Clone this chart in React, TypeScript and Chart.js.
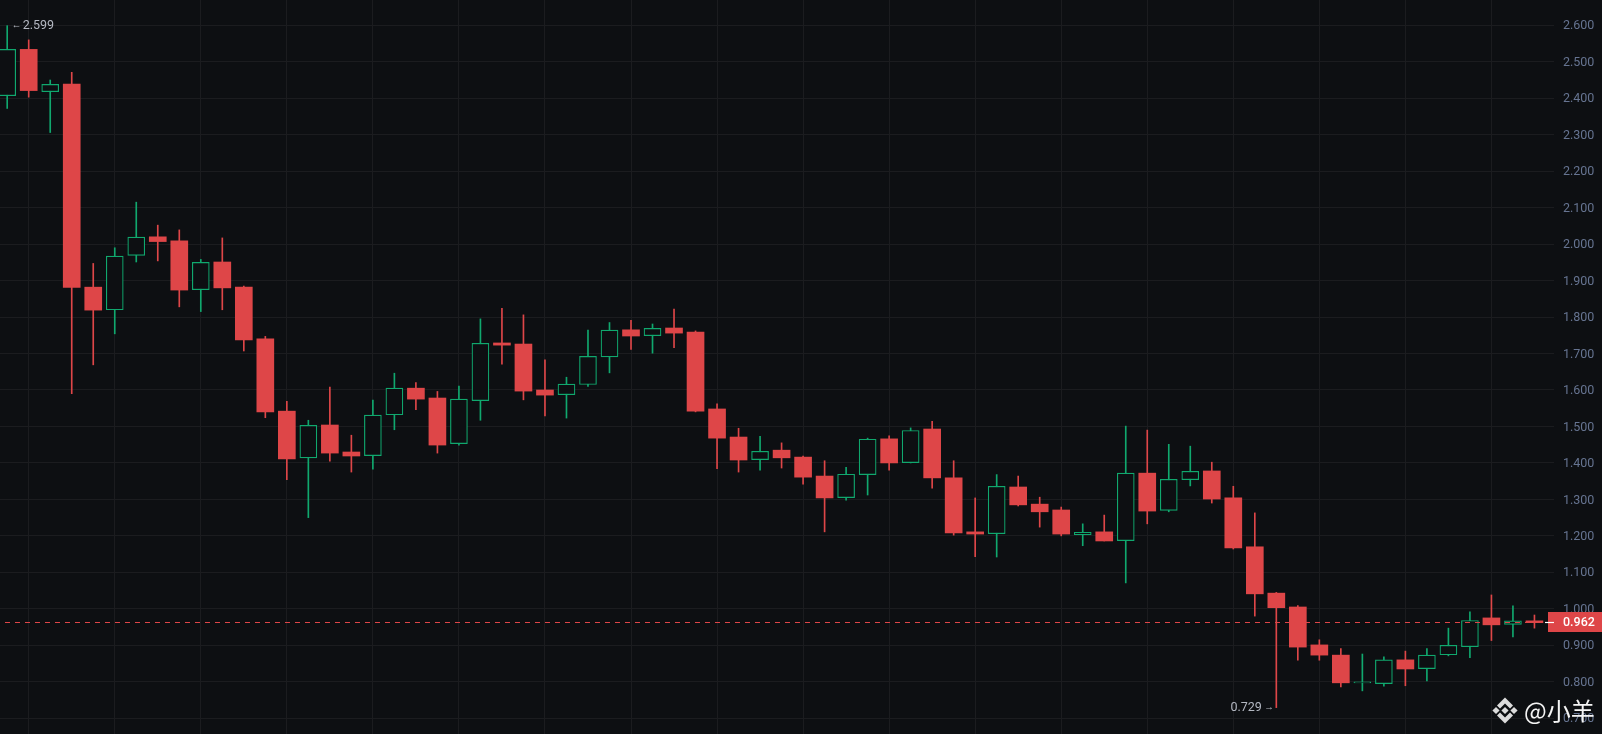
// App.tsx - candlestick chart built from floating bars
import React, { useEffect, useRef } from 'react';
import { Chart, registerables } from 'chart.js';

Chart.register(...registerables);

const opens = [
  2.407, 2.534, 2.418, 2.439, 1.882, 1.820, 1.969, 2.020, 2.009, 1.875, 1.951, 1.882,
  1.740, 1.542, 1.414, 1.504, 1.430, 1.420, 1.532, 1.605, 1.578, 1.453, 1.571, 1.729,
  1.726, 1.600, 1.587, 1.615, 1.691, 1.765, 1.749, 1.770, 1.759, 1.548, 1.471, 1.409,
  1.435, 1.416, 1.364, 1.305, 1.368, 1.466, 1.401, 1.493, 1.359, 1.211, 1.206, 1.334,
  1.287, 1.271, 1.203, 1.211, 1.187, 1.372, 1.270, 1.354, 1.378, 1.304, 1.170, 1.043,
  1.005, 0.901, 0.873, 0.797, 0.795, 0.860, 0.836, 0.874, 0.896, 0.975, 0.957, 0.967,
];
const highs = [
  2.599, 2.560, 2.450, 2.471, 1.947, 1.990, 2.115, 2.052, 2.039, 1.958, 2.017, 1.885,
  1.747, 1.569, 1.517, 1.608, 1.476, 1.572, 1.646, 1.620, 1.596, 1.611, 1.795, 1.824,
  1.806, 1.683, 1.635, 1.764, 1.785, 1.791, 1.781, 1.822, 1.762, 1.562, 1.495, 1.473,
  1.455, 1.419, 1.406, 1.388, 1.468, 1.474, 1.496, 1.514, 1.406, 1.304, 1.368, 1.364,
  1.306, 1.279, 1.233, 1.257, 1.501, 1.490, 1.451, 1.446, 1.402, 1.336, 1.263, 1.045,
  1.009, 0.915, 0.891, 0.876, 0.868, 0.884, 0.891, 0.947, 0.992, 1.038, 1.008, 0.983,
];
const lows = [
  2.372, 2.403, 2.306, 1.590, 1.669, 1.754, 1.951, 1.954, 1.828, 1.815, 1.820, 1.707,
  1.524, 1.354, 1.250, 1.405, 1.375, 1.383, 1.491, 1.546, 1.427, 1.449, 1.517, 1.671,
  1.573, 1.529, 1.523, 1.610, 1.647, 1.711, 1.701, 1.716, 1.540, 1.384, 1.375, 1.380,
  1.386, 1.342, 1.211, 1.298, 1.312, 1.380, 1.400, 1.331, 1.202, 1.143, 1.142, 1.282,
  1.224, 1.200, 1.173, 1.186, 1.071, 1.233, 1.266, 1.337, 1.290, 1.164, 0.980, 0.729,
  0.859, 0.859, 0.786, 0.775, 0.788, 0.789, 0.802, 0.871, 0.866, 0.913, 0.923, 0.947,
];
const closes = [
  2.534, 2.421, 2.438, 1.881, 1.819, 1.967, 2.019, 2.007, 1.874, 1.950, 1.880, 1.737,
  1.540, 1.411, 1.503, 1.427, 1.419, 1.531, 1.605, 1.575, 1.449, 1.575, 1.728, 1.723,
  1.597, 1.586, 1.616, 1.692, 1.764, 1.748, 1.769, 1.756, 1.542, 1.468, 1.408, 1.432,
  1.414, 1.361, 1.304, 1.369, 1.465, 1.400, 1.489, 1.359, 1.208, 1.205, 1.336, 1.285,
  1.266, 1.205, 1.210, 1.186, 1.372, 1.268, 1.355, 1.377, 1.301, 1.167, 1.041, 1.003,
  0.895, 0.873, 0.797, 0.800, 0.860, 0.835, 0.873, 0.900, 0.968, 0.956, 0.967, 0.962,
];
const priceTicks = [2.6, 2.5, 2.4, 2.3, 2.2, 2.1, 2.0, 1.9, 1.8, 1.7, 1.6, 1.5, 1.4, 1.3, 1.2, 1.1, 1.0, 0.9, 0.8, 0.7];
const timeGridIndexes = [1, 5, 9, 13, 17, 21, 25, 29, 33, 37, 41, 45, 49, 53, 57, 61, 65, 69];

const lastPrice = 0.962;
const highLabel = { index: 0, price: 2.599, text: '2.599' };
const lowLabel = { index: 59, price: 0.729, text: '0.729' };

const BG = '#0d0f12';
const GRID = '#1b1c1f';
const RED = '#de4648';
const GREEN = '#10a86e';
const AXIS_TEXT = '#667491';
const NOTE_TEXT = '#b4b8c2';

const drawDiamond = (ctx: CanvasRenderingContext2D, cx: number, cy: number, r: number) => {
  ctx.beginPath();
  ctx.moveTo(cx, cy - r);
  ctx.lineTo(cx + r, cy);
  ctx.lineTo(cx, cy + r);
  ctx.lineTo(cx - r, cy);
  ctx.closePath();
  ctx.fill();
};

// top chevron of the logo, dir = 1, bottom one dir = -1
const drawChevron = (ctx: CanvasRenderingContext2D, cx: number, cy: number, dir: number) => {
  ctx.beginPath();
  ctx.moveTo(cx, cy - 13 * dir);
  ctx.lineTo(cx + 8, cy - 5 * dir);
  ctx.lineTo(cx + 5, cy - 2 * dir);
  ctx.lineTo(cx, cy - 7 * dir);
  ctx.lineTo(cx - 5, cy - 2 * dir);
  ctx.lineTo(cx - 8, cy - 5 * dir);
  ctx.closePath();
  ctx.fill();
};

const overlayPlugin = {
  id: 'overlay',
  beforeDraw(chart: Chart) {
    const { ctx, width, height } = chart;
    ctx.save();
    ctx.fillStyle = BG;
    ctx.fillRect(0, 0, width, height);
    ctx.restore();
  },
  afterDraw(chart: Chart) {
    const { ctx, chartArea, width } = chart;
    const x = chart.scales.x;
    const y = chart.scales.y;
    const lastY = Math.floor(y.getPixelForValue(lastPrice)) + 0.5;

    ctx.save();
    // last price line
    ctx.strokeStyle = RED;
    ctx.lineWidth = 1.2;
    ctx.setLineDash([5, 5]);
    ctx.beginPath();
    ctx.moveTo(5, lastY);
    ctx.lineTo(chartArea.right, lastY);
    ctx.stroke();
    ctx.setLineDash([]);

    // last price tag
    ctx.fillStyle = RED;
    ctx.fillRect(chartArea.right, lastY - 10.5, width - chartArea.right, 20);
    ctx.strokeStyle = '#ffffff';
    ctx.beginPath();
    ctx.moveTo(chartArea.right - 3, lastY);
    ctx.lineTo(chartArea.right + 6, lastY);
    ctx.stroke();
    ctx.fillStyle = '#ffffff';
    ctx.font = '500 12.5px Roboto';
    ctx.textAlign = 'left';
    ctx.textBaseline = 'middle';
    ctx.fillText(lastPrice.toFixed(3), chartArea.right + 15, lastY + 0.5);

    // high / low notes, arrow and value apart so they keep their spacing
    ctx.fillStyle = NOTE_TEXT;
    const highX = x.getPixelForValue(highLabel.index);
    const highY = y.getPixelForValue(highLabel.price);
    const lowX = x.getPixelForValue(lowLabel.index);
    const lowY = y.getPixelForValue(lowLabel.price);
    ctx.font = '9.5px Roboto';
    ctx.textAlign = 'left';
    ctx.fillText('\u2190', highX + 4.5, highY);
    ctx.textAlign = 'right';
    ctx.fillText('\u2192', lowX - 2.5, lowY);
    ctx.font = '12.5px Roboto';
    ctx.textAlign = 'left';
    ctx.fillText(highLabel.text, highX + 15.5, highY);
    ctx.textAlign = 'right';
    ctx.fillText(lowLabel.text, lowX - 14.5, lowY);

    // watermark
    ctx.fillStyle = '#dcdcdc';
    const logoX = 1505;
    const logoY = 710.5;
    drawDiamond(ctx, logoX - 9, logoY, 3.6);
    drawDiamond(ctx, logoX + 9, logoY, 3.6);
    drawDiamond(ctx, logoX, logoY, 3.6);
    drawChevron(ctx, logoX, logoY, 1);
    drawChevron(ctx, logoX, logoY, -1);
    ctx.fillStyle = '#f4f4f4';
    ctx.font = '24px "Noto Sans CJK SC"';
    ctx.textAlign = 'left';
    ctx.fillText('@小羊', 1524, 711);
    ctx.restore();
  },
};

const CandleChart: React.FC = () => {
  const canvasRef = useRef<HTMLCanvasElement | null>(null);

  useEffect(() => {
    if (!canvasRef.current) return;

    const bodyColors = closes.map((c, i) => (c >= opens[i] ? GREEN : RED));
    const bodyFills = closes.map((c, i) => (c >= opens[i] ? BG : RED));

    const chart = new Chart(canvasRef.current, {
      type: 'bar',
      plugins: [overlayPlugin],
      data: {
        datasets: [
          {
            label: 'wick',
            order: 2,
            data: highs.map((h, i) => ({ x: i, y: [lows[i], h] })),
            backgroundColor: bodyColors,
            borderWidth: 0,
            barThickness: 1,
            grouped: false,
          },
          {
            label: 'body',
            order: 1,
            data: opens.map((o, i) => ({ x: i, y: [o, closes[i]] })),
            backgroundColor: bodyFills,
            borderColor: bodyColors,
            borderWidth: closes.map((c, i) => (c >= opens[i] ? 1.2 : 0)),
            borderSkipped: false,
            barThickness: 17,
            grouped: false,
          },
        ] as any,
      },
      options: {
        responsive: false,
        animation: false,
        events: [],
        layout: { padding: 0 },
        plugins: { legend: { display: false }, tooltip: { enabled: false } },
        scales: {
          x: {
            type: 'linear',
            offset: false,
            min: -0.3347,
            max: 71.63,
            border: { display: false },
            grid: { color: GRID, lineWidth: 1, drawTicks: false, offset: false },
            ticks: { display: false },
            afterBuildTicks: (scale: any) => {
              scale.ticks = timeGridIndexes.map(value => ({ value }));
            },
            afterFit: (scale: any) => {
              scale.height = 0;
            },
          },
          y: {
            position: 'right',
            min: 0.6567,
            max: 2.6694,
            border: { display: false },
            grid: { color: GRID, lineWidth: 1, tickLength: 6 },
            ticks: {
              color: AXIS_TEXT,
              font: { family: 'Roboto', size: 12.5 },
              padding: 9,
              labelOffset: 1,
              crossAlign: 'near',
              autoSkip: false,
              callback: (value: any) => Number(value).toFixed(3),
            },
            afterBuildTicks: (scale: any) => {
              scale.ticks = priceTicks.map(value => ({ value }));
            },
            afterFit: (scale: any) => {
              scale.width = 54;
              scale.paddingTop = 0;
              scale.paddingBottom = 0;
            },
          },
        },
      } as any,
    });

    return () => {
      chart.destroy();
    };
  }, []);

  return (
    <div style={{ position: 'fixed', left: 0, top: 0, width: 1602, height: 734, background: BG }}>
      <canvas ref={canvasRef} width={1602} height={734} style={{ display: 'block' }} />
    </div>
  );
};

export default function App() {
  return <CandleChart />;
}
